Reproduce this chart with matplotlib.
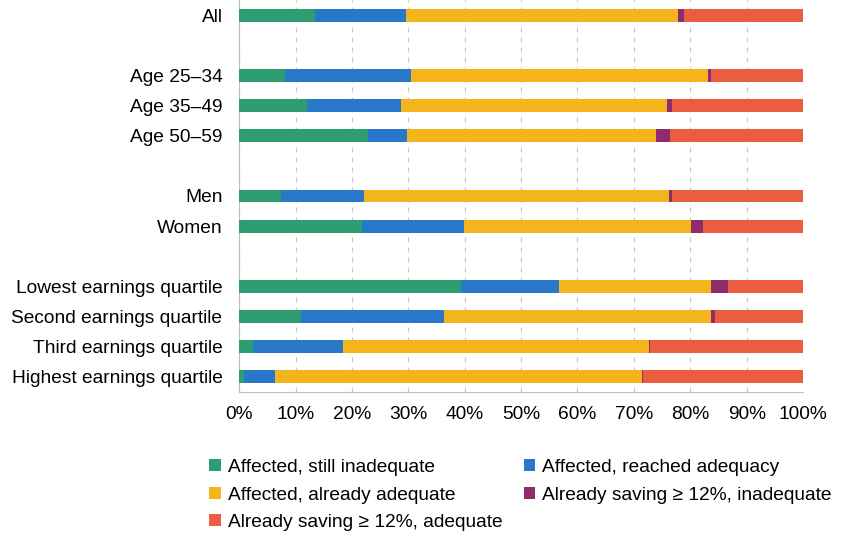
import numpy as np
import matplotlib.pyplot as plt
from matplotlib.patches import Patch

plt.rcParams['font.family'] = ['Liberation Sans', 'DejaVu Sans']

# Row labels and their slot positions (blank slots separate the groups)
labels = ['All',
          'Age 25–34', 'Age 35–49', 'Age 50–59',
          'Men', 'Women',
          'Lowest earnings quartile', 'Second earnings quartile',
          'Third earnings quartile', 'Highest earnings quartile']
slots = [0, 2, 3, 4, 6, 7, 9, 10, 11, 12]

series_names = ['Affected, still inadequate',
                'Affected, reached adequacy',
                'Affected, already adequate',
                'Already saving ≥ 12%, inadequate',
                'Already saving ≥ 12%, adequate']
colors = ['#2E9E72', '#2877C9', '#F4B41D', '#8E2C6C', '#EA5D40']

# shares in percent
still_inadequate = [13.5, 8.1, 12.1, 22.9, 7.4, 21.8, 39.3, 10.9, 2.4, 0.9]
reached_adequacy = [16.1, 22.3, 16.6, 6.9, 14.7, 18.1, 17.4, 25.4, 16.0, 5.4]
already_adequate = [48.3, 52.8, 47.2, 44.2, 54.2, 40.3, 26.9, 47.3, 54.3, 65.2]
saving_inadequate = [1.0, 0.4, 0.8, 2.4, 0.4, 2.0, 3.1, 0.7, 0.2, 0.1]
saving_adequate = [21.1, 16.4, 23.3, 23.6, 23.3, 17.8, 13.3, 15.7, 27.1, 28.4]

series = [still_inadequate, reached_adequacy, already_adequate,
          saving_inadequate, saving_adequate]

fs = 13.8

fig = plt.figure(figsize=(8.48, 5.49), dpi=100)
ax = fig.add_axes([0.282, 0.286, 0.665, 0.714])

left = np.zeros(len(labels))
for vals, col, name in zip(series, colors, series_names):
    vals = np.array(vals)
    ax.barh(slots, vals, left=left, height=0.43, color=col, label=name, zorder=3)
    left += vals

ax.set_ylim(12.5, -0.5)
ax.set_xlim(0, 100)
ax.set_yticks(slots)
ax.set_yticklabels(labels, fontsize=fs)
ax.set_xticks(np.arange(0, 101, 10))
ax.set_xticklabels([f'{v}%' for v in range(0, 101, 10)], fontsize=fs)
ax.tick_params(axis='y', length=0, pad=12)
ax.tick_params(axis='x', length=0, pad=10)
ax.grid(axis='x', linestyle=(0, (4, 4)), color='#C8C8C8', linewidth=0.9, zorder=0)
for s in ['top', 'right']:
    ax.spines[s].set_visible(False)
for s in ['left', 'bottom']:
    ax.spines[s].set_color('#BFBFBF')

# legend reads row by row, matplotlib fills column by column
handles = [Patch(facecolor=c, label=n) for c, n in zip(colors, series_names)]
order = [0, 2, 4, 1, 3]
fig.legend(handles=[handles[i] for i in order], loc='upper left',
           bbox_to_anchor=(0.247, 0.164),
           ncol=2, frameon=False, fontsize=fs, handlelength=0.6,
           handleheight=0.6, handletextpad=0.35, columnspacing=1.13,
           labelspacing=0.55, borderaxespad=0, borderpad=0)

fig.savefig('out.png', dpi=100)
